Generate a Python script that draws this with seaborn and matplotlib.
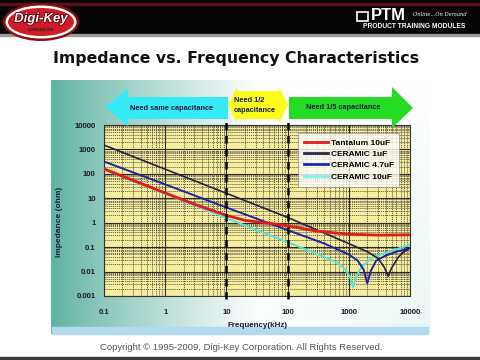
import numpy as np
import pandas as pd
import matplotlib
matplotlib.use("Agg")
import matplotlib.pyplot as plt
import seaborn as sns
import matplotlib.transforms as mtrans
import matplotlib.patheffects as pe
from matplotlib.patches import Polygon, Ellipse, Rectangle
from matplotlib.lines import Line2D
from matplotlib.ticker import LogLocator, NullFormatter

# ---------------- data ----------------
series_names = ["Tantalum 10uF", "CERAMIC 1uF", "CERAMIC 4.7uF", "CERAMIC 10uF"]

tant_f = [0.1, 0.3, 1, 3, 10, 20, 50, 100, 300, 1000, 3000, 10000]
tant_z = [160, 54, 16.5, 5.7, 2.0, 1.25, 0.95, 0.75, 0.45, 0.34, 0.31, 0.32]

c1_f = [0.1, 1, 10, 100, 1000, 2000, 3000, 3800, 4400, 5000, 6500, 8000, 10000]
c1_z = [1500, 155, 16, 1.65, 0.14, 0.065, 0.035, 0.015, 0.0065, 0.014, 0.04, 0.065, 0.095]

c47_f = [0.1, 1, 10, 100, 400, 1000, 1400, 1750, 2000, 2300, 2800, 4000, 6000, 10000]
c47_z = [320, 37, 4.2, 0.5, 0.14, 0.05, 0.028, 0.012, 0.0033, 0.011, 0.028, 0.045, 0.065, 0.09]

c10_f = [0.1, 1, 10, 100, 400, 700, 900, 1050, 1170, 1350, 1600, 2000, 2500, 3500, 5000, 10000]
c10_z = [150, 15.5, 1.55, 0.16, 0.04, 0.021, 0.011, 0.006, 0.0023, 0.007, 0.015, 0.025, 0.038, 0.052, 0.07, 0.125]

x_ticks = [0.1, 1, 10, 100, 1000, 10000]
x_tick_labels = ["0.1", "1", "10", "100", "1000", "10000"]
y_ticks = [0.001, 0.01, 0.1, 1, 10, 100, 1000, 10000]
y_tick_labels = ["0.001", "0.01", "0.1", "1", "10", "100", "1000", "10000"]
boundaries = [10, 100]
region_labels = ["Need same capacitance", "Need 1/2\ncapacitance", "Need 1/5 capacitance"]

# ---------------- styling ----------------
line_colors = {"Tantalum 10uF": "#e31a1c", "CERAMIC 1uF": "#23233f",
               "CERAMIC 4.7uF": "#2222a0", "CERAMIC 10uF": "#55e3dc"}
legend_colors = {"Tantalum 10uF": "#e31a1c", "CERAMIC 1uF": "#2a2a48",
                 "CERAMIC 4.7uF": "#2424a8", "CERAMIC 10uF": "#80f0f0"}
line_widths = {"Tantalum 10uF": 2.0, "CERAMIC 1uF": 1.2,
               "CERAMIC 4.7uF": 1.4, "CERAMIC 10uF": 1.4}
SANS = "Liberation Sans"
W, H = 480, 360

fig = plt.figure(figsize=(4.8, 3.6), dpi=100)
fig.patch.set_facecolor("white")
px = mtrans.Affine2D().scale(1 / W, -1 / H).translate(0, 1) + fig.transFigure

# header band
fig.add_artist(Rectangle((0, 0), W, 34, transform=px, color="#050505", zorder=0))
fig.add_artist(Rectangle((0, 3), W, 2, transform=px, color="#5a1214", zorder=0))
fig.add_artist(Rectangle((0, 34), W, 2, transform=px, color="#9a9a9a", zorder=0))
fig.add_artist(Rectangle((0, 357), W, 3, transform=px, color="#3a3a3a", zorder=0))

# Digi-Key logo
fig.add_artist(Ellipse((41, 22), 76, 38, transform=px, fc="#8e0c14", zorder=1))
fig.add_artist(Ellipse((41, 22), 71, 33, transform=px, fc="white", zorder=1))
fig.add_artist(Ellipse((41, 22), 66, 28, transform=px, fc="#d01c26", zorder=1))
t = fig.text(41 / W, 1 - 19 / H, "Digi-Key", ha="center", va="center", color="white",
             fontsize=9.5, fontweight="bold", fontstyle="italic", family=SANS, zorder=2)
t.set_path_effects([pe.withStroke(linewidth=1.2, foreground="#5a0008")])
fig.text(41 / W, 1 - 30 / H, "CORPORATION", ha="center", va="center", color="#222",
         fontsize=2.5, fontweight="bold", family=SANS, zorder=2)

# PTM logo
fig.add_artist(Rectangle((357, 12), 11, 9, transform=px, fc="none", ec="white", lw=1.2, zorder=1))
fig.text(371 / W, 1 - 16 / H, "PTM", ha="left", va="center", color="white",
         fontsize=12, fontweight="bold", family=SANS)
fig.text(413 / W, 1 - 15 / H, "Online...On Demand", ha="left", va="center", color="white",
         fontsize=3.8, fontstyle="italic", family="DejaVu Serif")
fig.text(414 / W, 1 - 26.5 / H, "PRODUCT TRAINING MODULES", ha="center", va="center",
         color="white", fontsize=4.8, fontweight="bold", family=SANS)

# title
fig.text(236 / W, 1 - 58 / H, "Impedance vs. Frequency Characteristics", ha="center",
         va="center", fontsize=11.3, fontweight="bold", family="DejaVu Sans", color="#111111")

# panel gradient background
bg = fig.add_axes([51 / W, 1 - 334 / H, 379 / W, 254 / H], zorder=0)
nx, ny = 379, 254
tx = np.linspace(0, 1, nx)[None, :]
ty = np.linspace(0, 1, ny)[:, None]
s = np.clip(tx / 0.55, 0, 1) ** 0.9
teal = np.array([0.37, 0.70, 0.63])
white = np.array([1.0, 1.0, 1.0])
tint = np.array([0.86, 0.95, 0.93])
img = teal * (1 - s[..., None]) + white * s[..., None]
mix = (ty * np.clip((tx - 0.5) / 0.5, 0, 1))[..., None] * 0.6
img = img * (1 - mix) + tint * mix
img = np.broadcast_to(img, (ny, nx, 3))
bg.imshow(img, aspect="auto", interpolation="bilinear")
bg.axis("off")
fig.add_artist(Rectangle((52, 327), 376, 7, transform=px, color="#b3d9ee", zorder=0.5))

# copyright
fig.text(241 / W, 1 - 348 / H, "Copyright \u00a9 1995-2009, Digi-Key Corporation. All Rights Reserved.",
         ha="center", va="center", fontsize=6.8, family=SANS, color="#555555")

# region arrows
arrow_style = dict(transform=px, zorder=3, lw=0)
fig.add_artist(Polygon([(105, 107), (128, 88), (128, 97), (228, 97), (228, 119),
                        (128, 119), (128, 126)], fc="#36eaf6", **arrow_style))
fig.add_artist(Polygon([(228, 105), (237, 87), (237, 91), (279, 91), (279, 87), (288, 105),
                        (279, 123), (279, 119), (237, 119), (237, 123)], fc="#fbfb1c", **arrow_style))
fig.add_artist(Polygon([(289, 97), (392, 97), (392, 87), (413, 108), (392, 128), (392, 119),
                        (289, 119)], fc="#24dc24", **arrow_style))
lab_kw = dict(fontsize=5.3, fontweight="bold", family=SANS, color="#1b1b4b", zorder=4)
fig.text(172 / W, 1 - 108 / H, region_labels[0], ha="center", va="center", **lab_kw)
fig.text(234 / W, 1 - 105 / H, region_labels[1], ha="left", va="center", linespacing=1.6, **lab_kw)
fig.text(343 / W, 1 - 107 / H, region_labels[2], ha="center", va="center", **lab_kw)

# ---------------- main plot ----------------
ax = fig.add_axes([104 / W, 1 - 296 / H, 306 / W, 171 / H], zorder=2)
ax.set_facecolor("#f6ee9c")

freqs = {"Tantalum 10uF": tant_f, "CERAMIC 1uF": c1_f, "CERAMIC 4.7uF": c47_f, "CERAMIC 10uF": c10_f}
imps = {"Tantalum 10uF": tant_z, "CERAMIC 1uF": c1_z, "CERAMIC 4.7uF": c47_z, "CERAMIC 10uF": c10_z}
df = pd.concat([pd.DataFrame({"Frequency": freqs[n], "Impedance": imps[n], "series": n})
                for n in series_names], ignore_index=True)

for order, name in enumerate(["CERAMIC 10uF", "CERAMIC 4.7uF", "CERAMIC 1uF", "Tantalum 10uF"]):
    sns.lineplot(data=df[df["series"] == name], x="Frequency", y="Impedance",
                 color=line_colors[name], linewidth=line_widths[name], estimator=None,
                 sort=False, legend=False, ax=ax, zorder=5 + order)

ax.set_xscale("log")
ax.set_yscale("log")
ax.set_xlim(0.1, 10000)
ax.set_ylim(0.001, 10000)
ax.set_xticks(x_ticks)
ax.set_yticks(y_ticks)
tick_font = dict(family=SANS, fontweight="bold", fontsize=5.6, color="#1a1a2a")
ax.set_xticklabels(x_tick_labels, **tick_font)
ax.set_yticklabels(y_tick_labels, **tick_font)
ax.xaxis.set_minor_locator(LogLocator(base=10, subs=range(2, 10), numticks=20))
ax.yaxis.set_minor_locator(LogLocator(base=10, subs=range(2, 10), numticks=20))
ax.xaxis.set_minor_formatter(NullFormatter())
ax.yaxis.set_minor_formatter(NullFormatter())
ax.tick_params(which="both", length=0)
ax.tick_params(axis="x", pad=9)
ax.tick_params(axis="y", pad=6)
ax.grid(which="major", color="#2a2a2a", lw=0.8, ls="-")
ax.grid(which="minor", color="#3c3c3c", lw=0.55, ls=(0, (1.5, 1.2)))
ax.set_axisbelow(True)
for sp in ax.spines.values():
    sp.set_color("#333333")
    sp.set_linewidth(0.8)

for b in boundaries:
    ax.axvline(b, ymin=-0.02, ymax=1.03, color="black", lw=1.8, dashes=(3, 2.2),
               clip_on=False, zorder=9)

ax.set_xlabel("Frequency(kHz)", family=SANS, fontweight="bold", fontsize=5.8, color="#1a1a3a")
ax.set_ylabel("Impedance (ohm)", family=SANS, fontweight="bold", fontsize=6, color="#1a1a3a")
ax.xaxis.set_label_coords(0.503, -0.15)
ax.yaxis.set_label_coords(-0.135, 0.433)

handles = [Line2D([], [], color=legend_colors[n], lw=2) for n in series_names]
leg = ax.legend(handles, series_names, loc="upper left", bbox_to_anchor=(0.634, 0.953),
                borderaxespad=0, frameon=True, fancybox=False, edgecolor="#888888",
                prop=dict(family=SANS, weight="bold", size=6.0), handlelength=2.9,
                handletextpad=0.3, labelspacing=0.42, borderpad=0.7)
leg.get_frame().set_linewidth(0.6)
leg.set_zorder(20)

fig.savefig("out.png", dpi=100)
